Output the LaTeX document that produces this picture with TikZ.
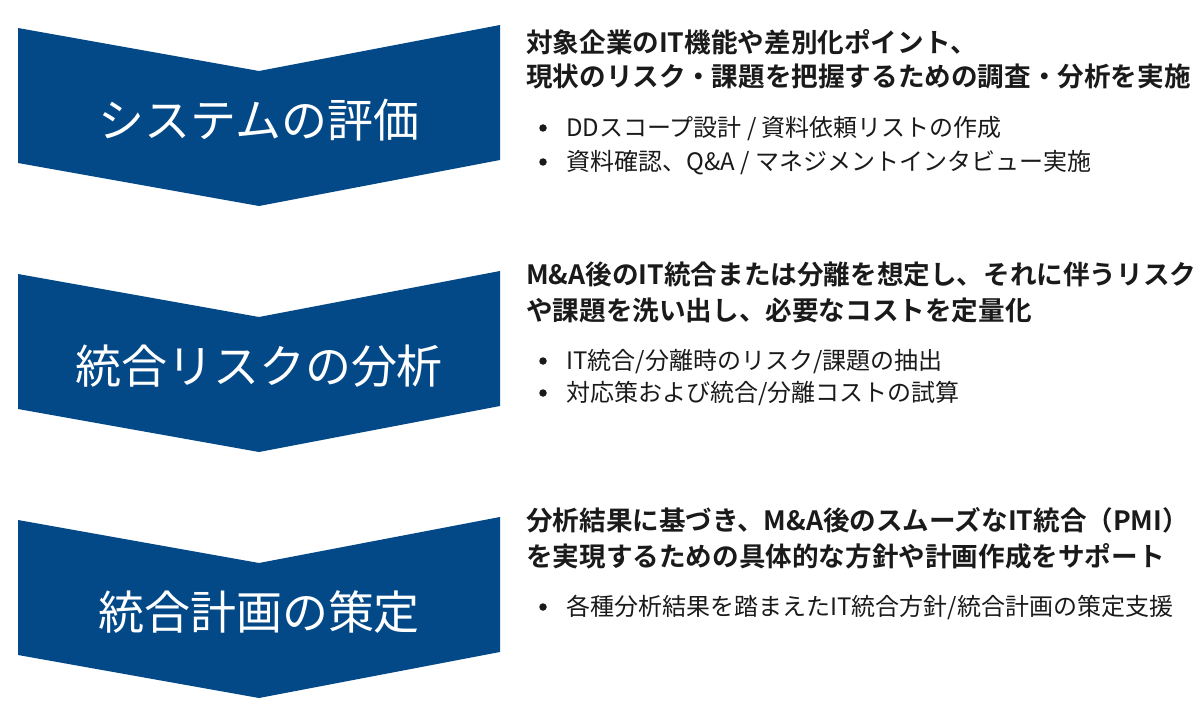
\documentclass[tikz,border=0pt]{standalone}
\usepackage{fontspec}
\setmainfont{Noto Sans CJK JP}[BoldFont={Noto Sans CJK JP Bold}]
\usepackage{tikz}
\definecolor{chevblue}{RGB}{3,73,136}
\definecolor{inkgray}{RGB}{26,26,26}

\begin{document}
\begin{tikzpicture}[x=1pt,y=-1pt,
    chev/.style={fill=chevblue},
    chevlabel/.style={text=white,inner sep=0pt,font=\fontsize{46}{46}\selectfont},
    headline/.style={anchor=west,inner sep=0pt,text=inkgray,text height=22pt,text depth=3pt,
      font=\bfseries\fontsize{26.6}{26.6}\selectfont},
    itemline/.style={anchor=west,inner sep=0pt,text=inkgray,text height=20pt,text depth=3pt,
      font=\fontsize{24}{24}\selectfont},
    dot/.style={circle,fill=inkgray,inner sep=0pt,minimum size=7.5pt}]
      \useasboundingbox (0,0) rectangle (1200,714);

      \foreach \y/\name/\title in {28/eval/システムの評価,274/risk/統合リスクの分析,520/plan/統合計画の策定} {
        \fill[chev] (18,\y) -- (259,\y+43) -- (500,\y-3) -- (500,\y+132) -- (259,\y+178) -- (18,\y+135) -- cycle;
        \node[chevlabel] (\name) at (259,\y+92) {\title};
      }

      % evaluation
      \node[headline] (eval1) at (526,43) {対象企業のIT機能や差別化ポイント、};
      \node[headline] (eval2) at (526,77) {現状のリスク・課題を把握するための調査・分析を実施};
      \node[dot] (evaldot1) at (543,128) {};
      \node[itemline] (evalitem1) at (566,128) {DDスコープ設計 / 資料依頼リストの作成};
      \node[dot] (evaldot2) at (543,162) {};
      \node[itemline] (evalitem2) at (566,162) {資料確認、Q\&A / マネジメントインタビュー実施};

      % risk
      \node[headline] (risk1) at (526,275) {M\&A後のIT統合または分離を想定し、それに伴うリスク};
      \node[headline] (risk2) at (526,311) {や課題を洗い出し、必要なコストを定量化};
      \node[dot] (riskdot1) at (543,361) {};
      \node[itemline] (riskitem1) at (566,361) {IT統合/分離時のリスク/課題の抽出};
      \node[dot] (riskdot2) at (543,393) {};
      \node[itemline] (riskitem2) at (566,393) {対応策および統合/分離コストの試算};

      % plan
      \node[headline] (plan1) at (526,521) {分析結果に基づき、M\&A後のスムーズなIT統合（PMI）};
      \node[headline] (plan2) at (526,557) {を実現するための具体的な方針や計画作成をサポート};
      \node[dot] (plandot1) at (543,607) {};
      \node[itemline] (planitem1) at (566,607) {各種分析結果を踏まえたIT統合方針/統合計画の策定支援};
\end{tikzpicture}
\end{document}
